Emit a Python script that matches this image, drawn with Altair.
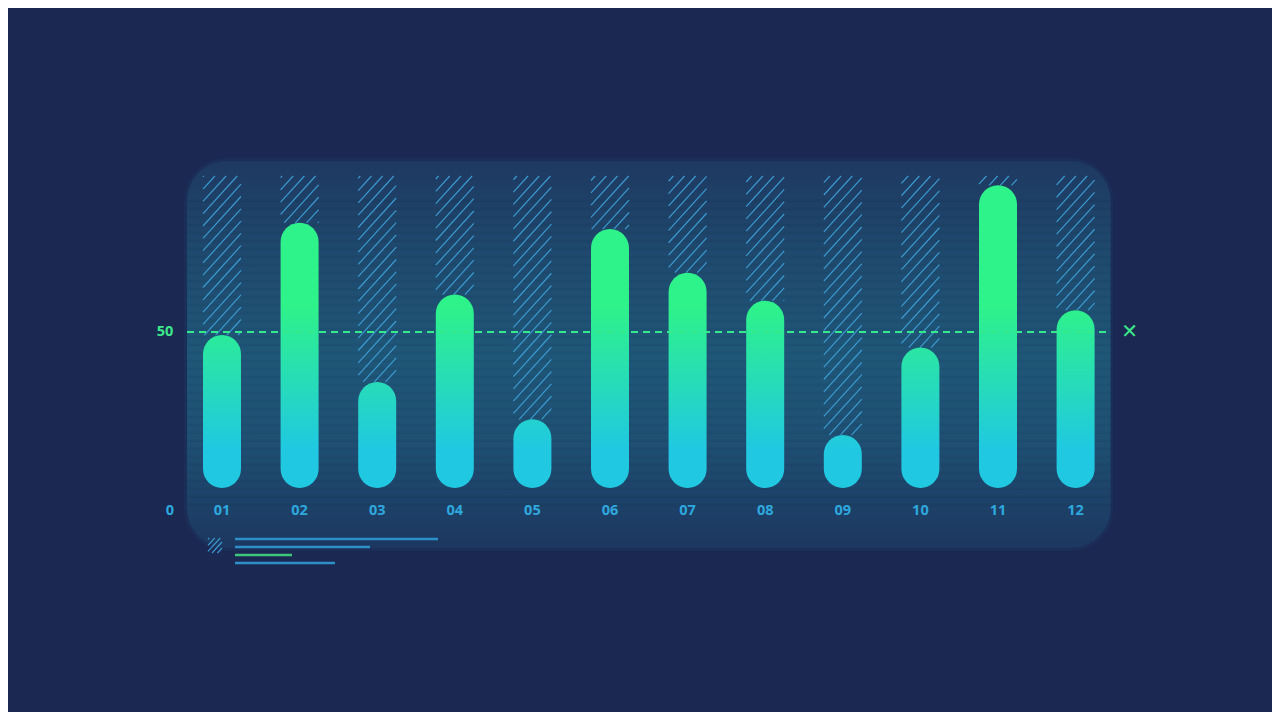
import altair as alt
import pandas as pd

# ---- data ----
months = ["01", "02", "03", "04", "05", "06", "07", "08", "09", "10", "11", "12"]
values = [49, 85, 34, 62, 22, 83, 69, 60, 17, 45, 97, 57]
target = 50
cap = 100
y_ticks = ["0", "50"]

# ---- geometry helpers (scale constants) ----
W, H = 1264, 704
XS = 77.6      # px per category step
YS = 3.12      # px per value unit
X_ORIGIN_PX = 222 - 8   # px of category 1 inside plot
Y_ZERO_PX = 488 - 8     # px of value 0 inside plot
x_dom = [1 - X_ORIGIN_PX / XS, 1 - X_ORIGIN_PX / XS + W / XS]
y_dom = [Y_ZERO_PX / YS - H / YS, Y_ZERO_PX / YS]

def dx(px):  # px length -> x units
    return px / XS

def dy(px):
    return px / YS

half = dx(19)

xs = alt.Scale(domain=x_dom, nice=False, zero=False)
ys = alt.Scale(domain=y_dom, nice=False, zero=False)

BG = "#1b2852"
GREEN = (46, 242, 138)
CYAN = (32, 200, 226)
BLUE_TXT = "#2ea8de"
HATCH = "#3ea3da"


def hexc(c):
    return "#%02x%02x%02x" % tuple(int(round(v)) for v in c)


def col_at(u, lo=12.0, hi=58.0):
    t = min(max((u - lo) / (hi - lo), 0.0), 1.0)
    return hexc([CYAN[k] + (GREEN[k] - CYAN[k]) * t for k in range(3)])


def X(field):
    return alt.X(field, type="quantitative", scale=xs, axis=None)


def Y(field):
    return alt.Y(field, type="quantitative", scale=ys, axis=None)


layers = []

# ---- panel ----
panel = pd.DataFrame({"x": [1 - dx(35)], "x2": [12 + dx(35)],
                      "y": [cap + dy(15)], "y2": [-dy(60)]})
glow = pd.DataFrame({"x": [1 - dx(38)], "x2": [12 + dx(38)],
                     "y": [cap + dy(18)], "y2": [-dy(63)]})
layers.append(alt.Chart(glow).mark_rect(cornerRadius=43, color="#1e3a62", opacity=0.35).encode(
    x=X("x"), x2="x2", y=Y("y"), y2="y2"))
layers.append(alt.Chart(panel).mark_rect(cornerRadius=40).encode(
    x=X("x"), x2="x2", y=Y("y"), y2="y2",
    color=alt.value({"gradient": "linear", "x1": 0, "y1": 0, "x2": 0, "y2": 1,
                     "stops": [{"offset": 0, "color": "#1e3961"},
                               {"offset": 0.25, "color": "#1f4a6f"},
                               {"offset": 0.5, "color": "#1f5779"},
                               {"offset": 0.72, "color": "#1f5074"},
                               {"offset": 1, "color": "#1c3760"}]})))

# faint horizontal scan stripes
stripe_y = []
u = cap - dy(25)
while u > -dy(20):
    stripe_y.append(u)
    u -= dy(8)
stripes = pd.DataFrame({"y": stripe_y, "x": [1 - dx(35)] * len(stripe_y),
                        "x2": [12 + dx(35)] * len(stripe_y)})
layers.append(alt.Chart(stripes).mark_rule(color="#000000", opacity=0.04, strokeWidth=3).encode(
    x=X("x"), x2="x2", y=Y("y")))

# ---- hatch lines behind bars ----
def hatch_segments(cx_u, top_u, bot_u, x_half_px, spacing=12.3, slope=1.1):
    x0 = (cx_u - 1) * XS - x_half_px
    x1 = (cx_u - 1) * XS + x_half_px
    y0 = bot_u * YS
    y1 = top_u * YS
    segs = []
    # lines going up-right: y = slope*x + k
    kmin = y0 - slope * x1
    kmax = y1 - slope * x0
    k = (kmin // spacing) * spacing
    while k <= kmax:
        xa = max(x0, (y0 - k) / slope)
        xb = min(x1, (y1 - k) / slope)
        if xb - xa > 0.5:
            segs.append((1 + xa / XS, (slope * xa + k) / YS, 1 + xb / XS, (slope * xb + k) / YS))
        k += spacing
    return segs

hrows = []
for i, v in enumerate(values):
    for s in hatch_segments(i + 1, cap, v, 19):
        hrows.append({"x": s[0], "y": s[1], "x2": s[2], "y2": s[3]})
# legend swatch hatch
for s in hatch_segments(1 - dx(7), -dy(50), -dy(65), 7, spacing=6):
    hrows.append({"x": s[0], "y": s[1], "x2": s[2], "y2": s[3]})
hatch_df = pd.DataFrame(hrows)
layers.append(alt.Chart(hatch_df).mark_rule(color=HATCH, strokeWidth=1.2, opacity=0.9).encode(
    x=X("x"), y=Y("y"), x2="x2", y2="y2"))

# ---- bars (absolute vertical gradient) ----
for i, (m, v) in enumerate(zip(months, values)):
    stops = [{"offset": 0, "color": col_at(v)}]
    for bu in (58.0, 12.0):
        if 0 < bu < v:
            stops.append({"offset": round(1 - bu / v, 4), "color": col_at(bu)})
    stops.append({"offset": 1, "color": col_at(0)})
    d = pd.DataFrame({"x": [i + 1 - half], "x2": [i + 1 + half], "y": [v], "y2": [0]})
    layers.append(alt.Chart(d).mark_bar(cornerRadius=19).encode(
        x=X("x"), x2="x2", y=Y("y"), y2="y2",
        color=alt.value({"gradient": "linear", "x1": 0, "y1": 0, "x2": 0, "y2": 1,
                         "stops": stops})))

# ---- target line ----
tdf = pd.DataFrame({"x": [1 - dx(35)], "x2": [12 + dx(35)], "y": [target]})
layers.append(alt.Chart(tdf).mark_rule(color="#34ea8c", strokeWidth=2, strokeDash=[7, 5]).encode(
    x=X("x"), x2="x2", y=Y("y")))

# ---- labels ----
lab = pd.DataFrame({"x": list(range(1, 13)), "y": [-dy(23)] * 12, "t": months})
layers.append(alt.Chart(lab).mark_text(font="Open Sans", fontWeight="bold", fontSize=14.5,
                                       color=BLUE_TXT, baseline="middle").encode(
    x=X("x"), y=Y("y"), text="t"))

ylab = pd.DataFrame({"x": [1 - dx(57), 1 - dx(52)], "y": [target, -dy(23)], "t": ["50", "0"],
                     "c": ["#3ce88a", BLUE_TXT]})
layers.append(alt.Chart(ylab).mark_text(font="Open Sans", fontWeight="bold", fontSize=14.5,
                                        baseline="middle").encode(
    x=X("x"), y=Y("y"), text="t", color=alt.Color("c:N", scale=None)))

xm = pd.DataFrame({"x": [12 + dx(54)], "y": [target], "t": ["✕"]})
layers.append(alt.Chart(xm).mark_text(font="DejaVu Sans", fontWeight="bold", fontSize=20,
                                      color="#3ce88a", baseline="middle").encode(
    x=X("x"), y=Y("y"), text="t"))

# ---- legend placeholder lines ----
leg = pd.DataFrame({
    "x": [1 + dx(13)] * 4,
    "x2": [1 + dx(216), 1 + dx(148), 1 + dx(70), 1 + dx(113)],
    "y": [-dy(51), -dy(59), -dy(67), -dy(75)],
    "c": ["#2f8fc9", "#2f8fc9", "#3cc878", "#2f8fc9"],
})
layers.append(alt.Chart(leg).mark_rule(strokeWidth=2.5).encode(
    x=X("x"), x2="x2", y=Y("y"), color=alt.Color("c:N", scale=None)))

chart = alt.layer(*layers).properties(
    width=W, height=H, background=BG, padding=0,
    autosize=alt.AutoSizeParams(type="none"),
).configure_view(stroke=None)

chart.save("out.html", embed_options={"renderer": "svg", "actions": False})
